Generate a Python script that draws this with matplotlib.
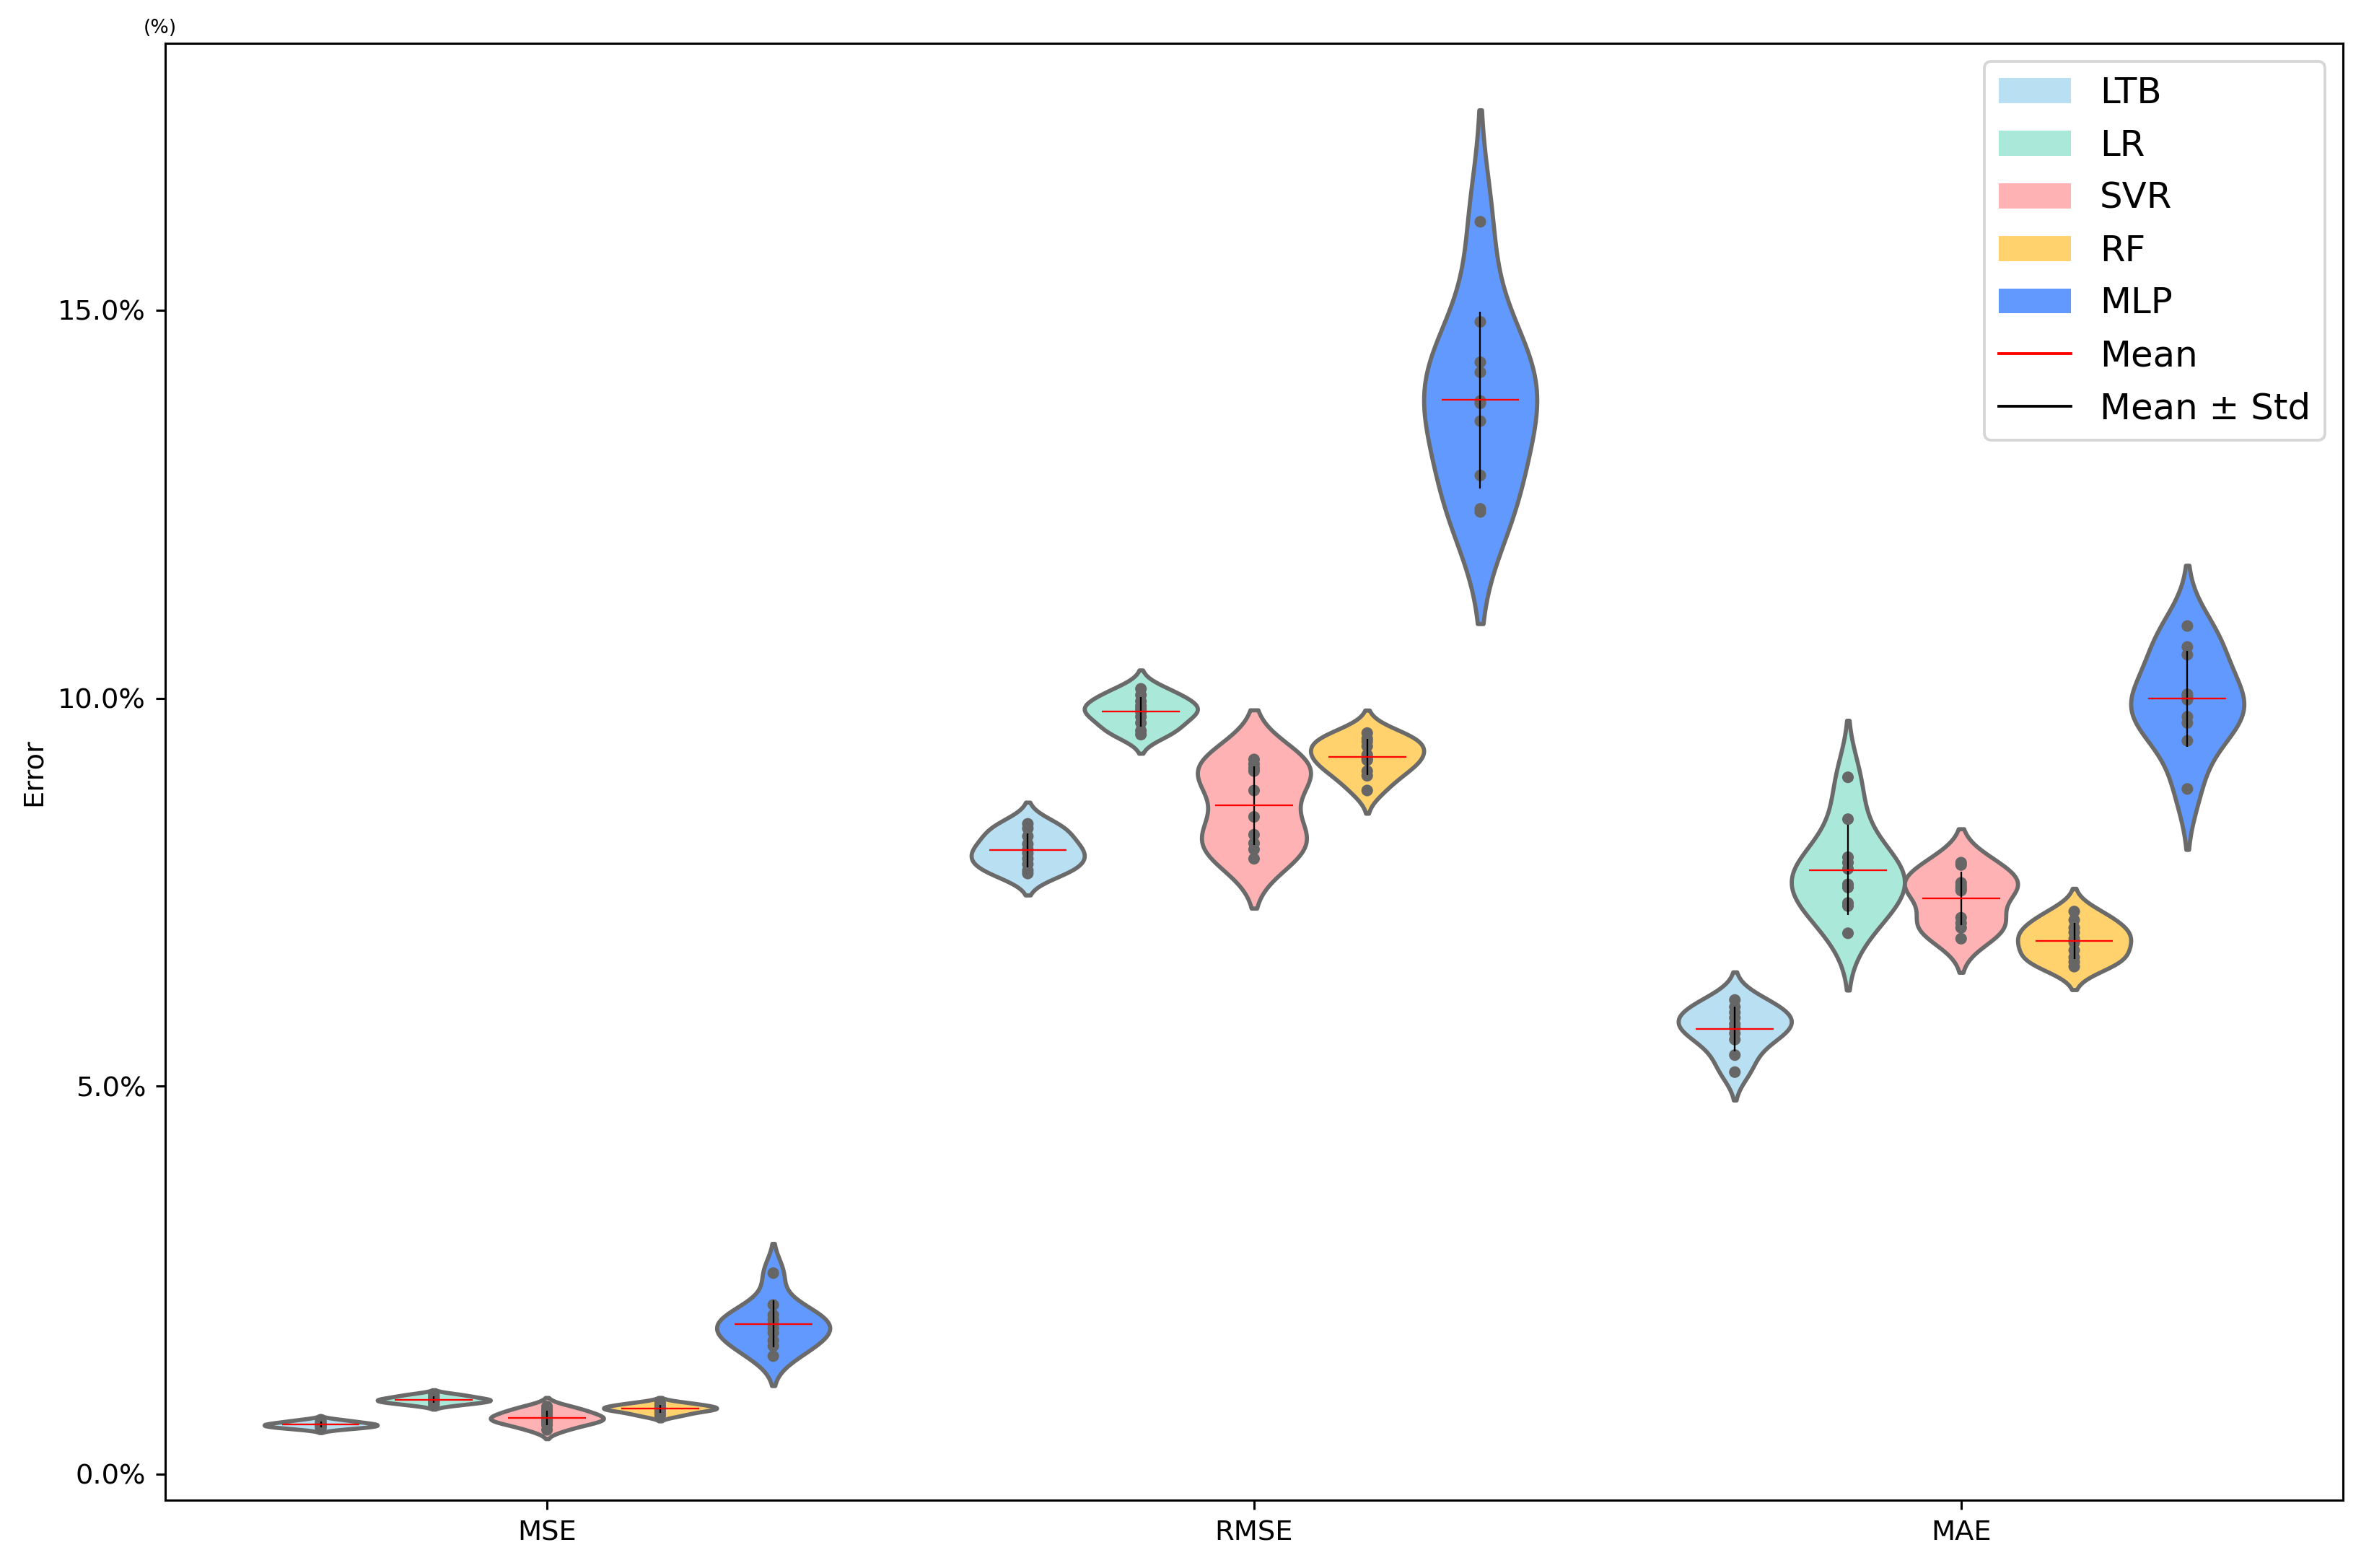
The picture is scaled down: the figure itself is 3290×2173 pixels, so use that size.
import numpy as np
import pandas as pd
import seaborn as sns
from matplotlib import pyplot as plt
from matplotlib.patches import Patch
from matplotlib.lines import Line2D
from matplotlib.ticker import PercentFormatter, MultipleLocator

# data (%), 10 folds per model
metrics = ['MSE', 'RMSE', 'MAE']
models = ['LTB', 'LR', 'SVR', 'RF', 'MLP']
colors = ['#B8DFF2', '#AAE9DA', '#FEB2B4', '#FFD26D', '#6199FF']

mse_ltb = [0.70, 0.68, 0.66, 0.65, 0.64, 0.63, 0.62, 0.61, 0.60, 0.58]
mse_lr = [1.03, 1.01, 0.99, 0.97, 0.96, 0.95, 0.94, 0.93, 0.91, 0.89]
mse_svr = [0.87, 0.83, 0.79, 0.76, 0.73, 0.71, 0.69, 0.67, 0.63, 0.57]
mse_rf = [0.92, 0.90, 0.88, 0.86, 0.85, 0.84, 0.83, 0.81, 0.78, 0.75]
mse_mlp = [2.59, 2.18, 2.05, 1.99, 1.93, 1.88, 1.82, 1.72, 1.65, 1.52]

rmse_ltb = [8.38, 8.32, 8.22, 8.12, 8.05, 8.00, 7.93, 7.86, 7.78, 7.74]
rmse_lr = [10.12, 10.04, 9.96, 9.90, 9.86, 9.82, 9.76, 9.68, 9.58, 9.53]
rmse_svr = [9.21, 9.15, 9.10, 9.06, 8.81, 8.47, 8.24, 8.13, 8.05, 7.93]
rmse_rf = [9.55, 9.48, 9.44, 9.38, 9.27, 9.22, 9.20, 9.06, 9.00, 8.81]
rmse_mlp = [16.14, 14.85, 14.33, 14.20, 13.83, 13.80, 13.57, 12.87, 12.44, 12.40]

mae_ltb = [6.11, 6.02, 5.95, 5.88, 5.80, 5.75, 5.68, 5.60, 5.40, 5.18]
mae_lr = [8.98, 8.44, 7.95, 7.88, 7.80, 7.60, 7.56, 7.36, 7.32, 6.97]
mae_svr = [7.88, 7.85, 7.62, 7.58, 7.55, 7.52, 7.17, 7.10, 7.04, 6.90]
mae_rf = [7.25, 7.14, 7.04, 6.98, 6.90, 6.85, 6.75, 6.66, 6.60, 6.54]
mae_mlp = [10.93, 10.66, 10.56, 10.05, 10.02, 9.98, 9.76, 9.68, 9.45, 8.83]

results = {
    'MSE': [mse_ltb, mse_lr, mse_svr, mse_rf, mse_mlp],
    'RMSE': [rmse_ltb, rmse_lr, rmse_svr, rmse_rf, rmse_mlp],
    'MAE': [mae_ltb, mae_lr, mae_svr, mae_rf, mae_mlp],
}

rows = []
for m in metrics:
    for name, vals in zip(models, results[m]):
        for v in vals:
            rows.append((m, name, v))
df = pd.DataFrame(rows, columns=['metric', 'model', 'value'])

dpi = 276
fig = plt.figure(figsize=(3290 / dpi, 2173 / dpi), dpi=dpi)
ax = fig.add_subplot(111)
fig.subplots_adjust(left=0.0696, right=0.9869, bottom=0.0431, top=0.9724)

pal = dict(zip(models, colors))
sns.violinplot(data=df, x='metric', y='value', hue='model', order=metrics,
               hue_order=models, palette=pal, inner=None, density_norm='width',
               saturation=1, linewidth=1.5, linecolor='#6a6a6a', width=0.8,
               legend=False, ax=ax)
sns.stripplot(data=df, x='metric', y='value', hue='model', order=metrics,
              hue_order=models, palette={k: '#666666' for k in models},
              dodge=True, jitter=False, size=4.2, legend=False, ax=ax)

# mean and mean +- std
offsets = np.linspace(-0.32, 0.32, len(models))
for i, m in enumerate(metrics):
    for j, vals in enumerate(results[m]):
        mu = np.mean(vals)
        sd = np.std(vals, ddof=1)
        x = i + offsets[j]
        ax.vlines(x, mu - sd, mu + sd, colors='black', linewidth=0.6, zorder=4)
        ax.hlines(mu, x - 0.055, x + 0.055, colors='red', linewidth=0.6, zorder=5)

ax.set_xlim(-0.54, 2.54)
ax.set_ylim(-0.34, 18.44)
ax.yaxis.set_major_locator(MultipleLocator(5))
ax.yaxis.set_major_formatter(PercentFormatter(decimals=1))
ax.set_xlabel('')
ax.set_ylabel('Error')
ax.text(-0.0025, 1.004, '(%)', transform=ax.transAxes, ha='center', va='bottom',
        fontsize='x-small')

handles = [Patch(facecolor=c, label=n) for n, c in zip(models, colors)]
handles.append(Line2D([0], [0], color='red', linewidth=1, label='Mean'))
handles.append(Line2D([0], [0], color='black', linewidth=1, label='Mean ± Std'))
ax.legend(handles=handles, loc='upper right', fontsize=13)

plt.savefig('out.png', dpi=dpi)
